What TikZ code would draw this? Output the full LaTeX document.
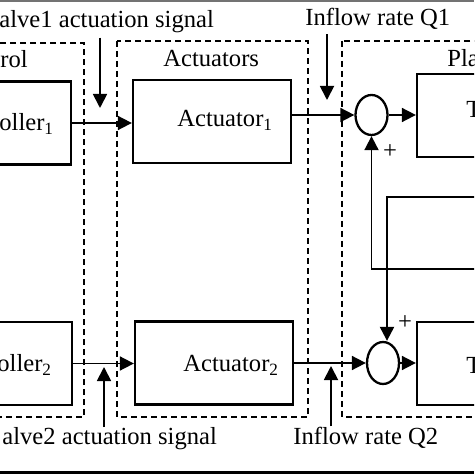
\documentclass[tikz,border=0pt]{standalone}
\usepackage{fontspec}
\setmainfont{Liberation Serif}
\usepackage{tikz}
\usetikzlibrary{arrows.meta,shapes.geometric}

\begin{document}
\begin{tikzpicture}[x=0.5pt, y=-0.5pt,
    font=\fontsize{12.3}{14}\selectfont,
    block/.style={draw, line width=1.15pt, minimum width=79pt, minimum height=41.5pt, inner sep=0pt},
    sumnode/.style={draw, ellipse, line width=1.15pt, minimum width=16pt, minimum height=20pt, inner sep=0pt},
    group/.style={draw, line width=0.8pt, dash pattern=on 3pt off 2pt},
    txt/.style={anchor=base west, inner sep=0pt},
    sig/.style={line width=0.9pt, -{Triangle[length=7pt, width=7pt]}}]
    \useasboundingbox (0,0) rectangle (474,474);
    \clip (0,0) rectangle (474,474);
    \fill[black!55] (0,0) rectangle (474,2.5); % grey edge at top
    \fill[black] (0,471) rectangle (474,474); % black edge at bottom
    % dashed groups
    \draw[group] (-20,43) rectangle (84,417); % control
    \draw[group] (117,41) rectangle (308,417); % actuators
    \draw[group] (342,41) rectangle (500,417); % plant
    \node[txt] (ctrltitle) at (0,68) {rol};
    \node[txt] (acttitle) at (163,67) {Actuators};
    \node[txt] (planttitle) at (447,67) {Pla};
    % top loop
    \node[block] (ctrl1) at (-8,123) {}; % controller 1
    \node[txt] (ctrl1txt) at (-1,131) {oller\textsubscript{1}};
    \node[block] (act1) at (212,121.5) {}; % actuator 1
    \node[txt] (act1txt) at (177,127) {Actuator\textsubscript{1}};
    \node[sumnode] (sum1) at (371.5,115) {}; % sum before tank 1
    \node[block] (tank1) at (496,115.5) {}; % tank 1
    \node[txt] (tank1txt) at (466,118) {T};
    \node (plus1) at (390,152) {+};
    % bottom loop
    \node[block] (ctrl2) at (-7,363.5) {}; % controller 2
    \node[txt] (ctrl2txt) at (-3,371.5) {oller\textsubscript{2}};
    \node[block] (act2) at (214,363) {}; % actuator 2
    \node[txt] (act2txt) at (183,371.5) {Actuator\textsubscript{2}};
    \node[sumnode, minimum height=21pt] (sum2) at (383,363) {}; % sum before tank 2
    \node[block] (tank2) at (496,363.5) {}; % tank 2
    \node[txt] (tank2txt) at (466,373) {T};
    \node (plus2) at (405,323) {+};
    % signals
    \draw[sig] (ctrl1.east) -- (ctrl1.east -| act1.west);
    \draw[sig] (act1.east |- sum1.west) -- (sum1.west);
    \draw[sig] (sum1.east) -- (sum1.east -| tank1.west);
    \draw[sig] (ctrl2.east) -- (ctrl2.east -| act2.west);
    \draw[sig] (act2.east |- sum2.west) -- (sum2.west);
    \draw[sig] (sum2.east) -- (sum2.east -| tank2.west);
    % coupling lines from the right
    \coordinate (fb1) at (480,269);
    \coordinate (fb2) at (480,197);
    \draw[sig] (fb1) -| (sum1.south);
    \draw[sig, line width=1.1pt] (fb2) -| ([xshift=2pt]sum2.north);
    % outside inputs
    \node[txt] (v1lab) at (-1,28) {alve1 actuation signal};
    \coordinate (v1tip) at (100,108);
    \draw[sig, shorten <=2pt] (v1lab.south -| v1tip) -- (v1tip);
    \node[txt] (q1lab) at (305,26) {Inflow rate Q1};
    \coordinate (q1tip) at (327,100);
    \draw[sig, shorten <=2pt] (q1lab.south -| q1tip) -- (q1tip);
    \node[txt] (v2lab) at (2,444.5) {alve2 actuation signal};
    \coordinate (v2tip) at (104,367);
    \draw[sig] (v2lab.north -| v2tip) -- (v2tip);
    \node[txt] (q2lab) at (293,444) {Inflow rate Q2};
    \coordinate (q2tip) at (331,366);
    \draw[sig] (q2lab.north -| q2tip) -- (q2tip);
\end{tikzpicture}
\end{document}
